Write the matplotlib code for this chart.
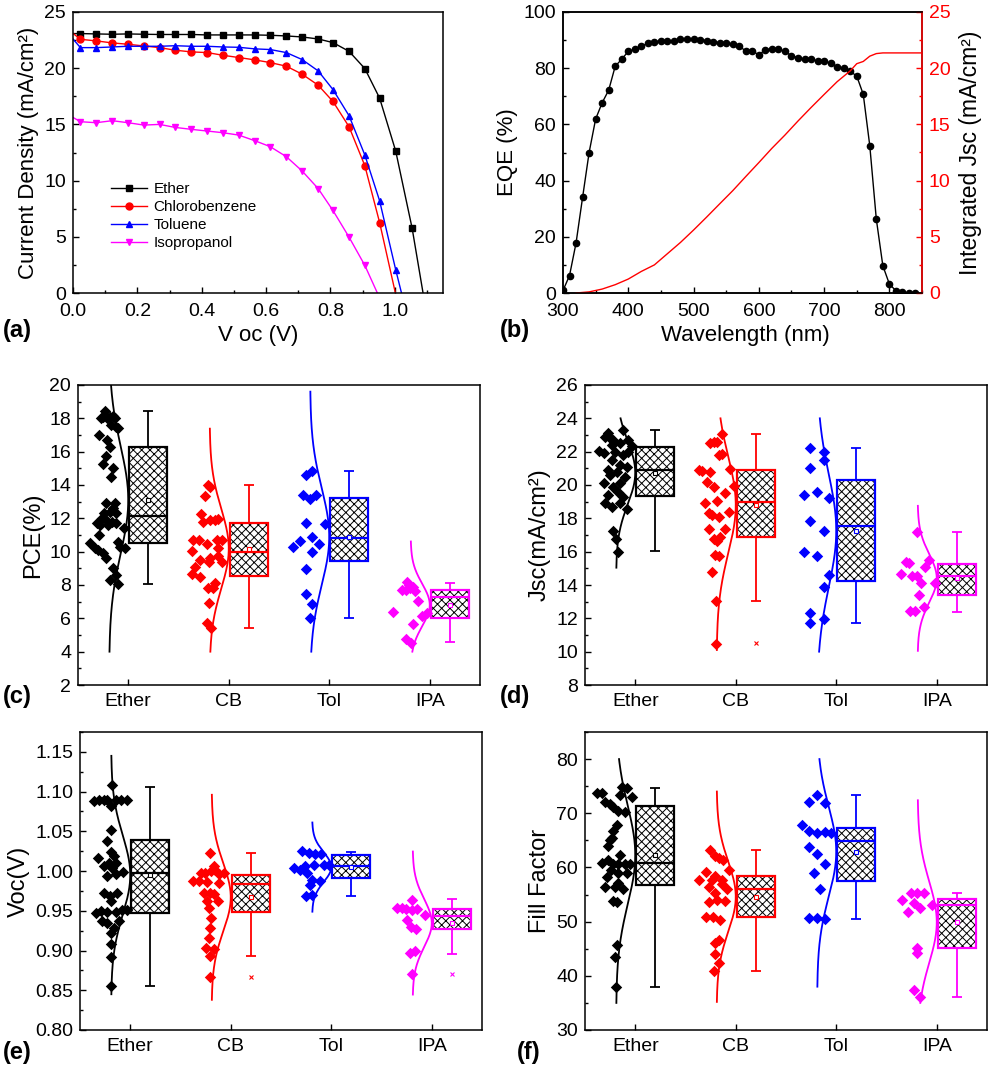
import numpy as np
import matplotlib
matplotlib.use("Agg")
import matplotlib.pyplot as plt
from matplotlib.ticker import MultipleLocator, FormatStrFormatter

plt.rcParams['font.family'] = ['Liberation Sans', 'DejaVu Sans']
plt.rcParams['hatch.linewidth'] = 0.7

# ---------------- (a) J-V data ----------------
legend_labels = ["Ether", "Chlorobenzene", "Toluene", "Isopropanol"]
V_ether = [0, 0.023, 0.072, 0.122, 0.171, 0.22, 0.269, 0.318, 0.368, 0.417, 0.466, 0.515, 0.565,
           0.613, 0.663, 0.712, 0.762, 0.808, 0.858, 0.907, 0.953, 1.003, 1.054, 1.088]
J_ether = [23.08, 23.08, 23.05, 23.02, 23.05, 23.02, 23.0, 23.0, 23.0, 22.96, 22.96, 22.96, 22.96,
           22.93, 22.87, 22.78, 22.6, 22.28, 21.5, 19.97, 17.34, 12.63, 5.77, 0.0]
V_cb = [0, 0.023, 0.072, 0.122, 0.171, 0.22, 0.269, 0.318, 0.368, 0.417, 0.466, 0.515, 0.565,
        0.613, 0.663, 0.712, 0.762, 0.808, 0.858, 0.907, 0.953, 1.002]
J_cb = [23.1, 22.57, 22.43, 22.25, 22.13, 21.98, 21.83, 21.6, 21.45, 21.39, 21.15, 20.95, 20.74,
        20.5, 20.18, 19.47, 18.49, 17.04, 14.79, 11.33, 6.27, 0.0]
V_tol = [0, 0.023, 0.072, 0.122, 0.171, 0.22, 0.269, 0.318, 0.368, 0.417, 0.466, 0.515, 0.565,
         0.613, 0.663, 0.712, 0.762, 0.808, 0.858, 0.907, 0.953, 1.003, 1.021]
J_tol = [22.6, 21.83, 21.83, 21.89, 21.95, 21.95, 21.95, 22.0, 21.95, 21.95, 21.89, 21.86, 21.72,
         21.66, 21.39, 20.77, 19.76, 18.1, 15.77, 12.28, 8.2, 2.07, 0.0]
V_ipa = [0, 0.023, 0.072, 0.122, 0.171, 0.22, 0.269, 0.318, 0.368, 0.417, 0.466, 0.515, 0.565,
         0.613, 0.663, 0.712, 0.762, 0.808, 0.858, 0.907, 0.946]
J_ipa = [15.62, 15.24, 15.15, 15.33, 15.15, 14.94, 15.0, 14.73, 14.56, 14.41, 14.26, 14.05, 13.55,
         13.02, 12.13, 10.86, 9.29, 7.34, 4.97, 2.46, 0.0]

# ---------------- (b) EQE data ----------------
wl = [300, 310, 320, 330, 340, 350, 360, 370, 380, 390, 400, 410, 420, 430, 440, 450, 460, 470,
      480, 490, 500, 510, 520, 530, 540, 550, 560, 570, 580, 590, 600, 610, 620, 630, 640, 650,
      660, 670, 680, 690, 700, 710, 720, 730, 740, 750, 760, 770, 780, 790, 800, 810, 820, 830, 840]
eqe = [0.9, 6.2, 17.8, 34.0, 50.0, 61.9, 67.7, 72.2, 80.7, 83.2, 86.0, 86.7, 87.9, 88.8, 89.5,
       89.6, 89.7, 89.6, 90.3, 90.4, 90.4, 90.2, 89.8, 89.5, 89.1, 88.8, 88.5, 88.0, 86.0, 86.2,
       84.7, 86.6, 86.9, 86.7, 86.0, 84.4, 83.8, 83.2, 83.2, 82.6, 82.5, 81.8, 80.4, 80.0, 78.9,
       77.2, 70.7, 52.4, 26.3, 9.7, 3.2, 0.8, 0.2, 0.0, 0.0]
wl_int = [320, 340, 360, 380, 400, 420, 440, 460, 480, 500, 520, 540, 560, 580, 600, 620, 640,
          660, 680, 700, 720, 740, 750, 760, 770, 780, 790, 800, 850]
jsc_int = [0.0, 0.1, 0.35, 0.74, 1.24, 1.92, 2.5, 3.5, 4.5, 5.6, 6.75, 7.93, 9.1, 10.36, 11.6,
           12.87, 14.05, 15.3, 16.5, 17.66, 18.8, 19.76, 20.4, 20.6, 21.07, 21.3, 21.36, 21.36, 21.36]

# ---------------- (c)-(f) statistics ----------------
categories = ["Ether", "CB", "Tol", "IPA"]
colors = ["#000000", "#ff0000", "#0000ff", "#ff00ff"]

# PCE
pce_ether = [18.44, 18.0, 18.06, 18.0, 18.06, 18.0, 18.14, 17.6, 17.46, 17.4, 17.0, 16.7, 16.26, 15.74,
             15.24, 15.0, 14.46, 12.94, 12.9, 12.3, 12.4, 12.34, 11.7, 11.6, 11.9, 11.8, 11.74, 11.44,
             11.0, 10.5, 10.2, 10.1, 9.9, 9.6, 10.6, 10.3, 10.2, 9.0, 8.6, 8.3, 8.04, 12.0, 11.6, 12.6]
pce_ether_jit = [-0.23, -0.27, -0.25, -0.21, -0.18, -0.13, -0.15, -0.17, -0.12, -0.10, -0.29, -0.21,
                 -0.18, -0.22, -0.25, -0.15, -0.17, -0.22, -0.13, -0.24, -0.18, -0.12, -0.31, -0.28,
                 -0.22, -0.16, -0.12, -0.04, -0.29, -0.38, -0.33, -0.30, -0.25, -0.22, -0.10, -0.08,
                 -0.03, -0.15, -0.12, -0.18, -0.10, -0.26, -0.20, -0.15]
pce_cb = [14.0, 13.9, 13.34, 12.26, 11.8, 11.9, 11.9, 11.96, 10.7, 10.7, 10.46, 10.7, 10.7, 10.04, 10.2,
          9.5, 9.4, 9.6, 9.74, 9.4, 9.1, 8.66, 8.46, 7.8, 7.8, 8.1, 6.9, 5.7, 5.4]
pce_cb_jit = [-0.21, -0.19, -0.24, -0.28, -0.26, -0.19, -0.14, -0.11, -0.36, -0.30, -0.22, -0.12, -0.07,
              -0.37, -0.11, -0.29, -0.20, -0.19, -0.11, -0.07, -0.34, -0.37, -0.29, -0.21, -0.16,
              -0.14, -0.20, -0.22, -0.18]
pce_tol = [14.6, 14.84, 13.4, 13.14, 13.4, 11.74, 11.64, 10.9, 10.3, 10.64, 10.44, 9.96, 8.94, 7.44,
           6.84, 6.04]
pce_tol_jit = [-0.23, -0.17, -0.26, -0.19, -0.13, -0.23, -0.04, -0.17, -0.36, -0.29, -0.10, -0.17,
               -0.23, -0.23, -0.17, -0.19]
pce_ipa = [7.7, 7.8, 7.7, 8.2, 7.9, 7.66, 7.06, 6.36, 5.64, 6.16, 6.3, 4.74, 4.54, 8.0]
pce_ipa_jit = [-0.24, -0.20, -0.28, -0.23, -0.17, -0.15, -0.12, -0.37, -0.17, -0.08, -0.03, -0.24,
               -0.19, -0.21]
pce_q1 = [10.5, 8.54, 9.44, 6.04]
pce_med = [12.15, 10.0, 10.84, 7.3]
pce_q3 = [16.3, 11.7, 13.24, 7.7]
pce_wlo = [8.04, 5.4, 6.04, 4.6]
pce_whi = [18.44, 14.0, 14.84, 8.14]
pce_mean = [13.1, 10.18, 10.9, 6.8]
pce_sd = [3.2, 2.4, 2.9, 1.27]
pce_outliers = [[], [], [], []]

# Jsc
jsc_ether = [23.3, 23.1, 22.9, 22.8, 22.7, 22.7, 22.34, 22.5, 22.4, 22.04, 21.9, 22.0, 21.8, 22.0, 21.5,
             21.2, 21.1, 20.9, 20.8, 20.6, 20.5, 20.1, 19.9, 20.1, 19.6, 19.4, 19.3, 18.9, 18.7, 18.9,
             18.54, 17.26, 16.76, 16.0]
jsc_ether_jit = [-0.12, -0.27, -0.30, -0.25, -0.22, -0.07, -0.03, -0.15, -0.23, -0.36, -0.31, -0.20,
                 -0.12, -0.07, -0.23, -0.15, -0.08, -0.27, -0.18, -0.25, -0.10, -0.31, -0.22, -0.15,
                 -0.17, -0.27, -0.12, -0.30, -0.23, -0.15, -0.08, -0.22, -0.19, -0.17]
jsc_cb = [23.04, 22.54, 22.6, 22.56, 21.8, 21.86, 20.9, 20.86, 20.8, 20.94, 20.2, 19.9, 19.96, 19.5,
          18.9, 19.06, 18.3, 18.2, 18.4, 18.06, 17.34, 17.34, 16.76, 16.66, 16.86, 15.8, 15.74, 14.8,
          13.06, 10.46]
jsc_cb_jit = [-0.14, -0.26, -0.22, -0.19, -0.17, -0.14, -0.37, -0.34, -0.26, -0.06, -0.29, -0.22, -0.02,
              -0.11, -0.31, -0.19, -0.27, -0.24, -0.07, -0.17, -0.27, -0.11, -0.22, -0.19, -0.16,
              -0.21, -0.17, -0.24, -0.20, -0.20]
jsc_tol = [22.2, 22.0, 21.0, 21.5, 19.4, 19.6, 19.2, 17.86, 17.24, 15.96, 15.74, 14.6, 13.86, 12.34,
           11.7, 11.94]
jsc_tol_jit = [-0.26, -0.12, -0.26, -0.12, -0.32, -0.19, -0.07, -0.26, -0.12, -0.32, -0.19, -0.07,
               -0.12, -0.26, -0.26, -0.12]
jsc_ipa = [15.4, 15.3, 17.2, 15.5, 15.1, 14.66, 14.54, 14.54, 14.14, 13.4, 12.46, 12.46, 12.7, 14.14]
jsc_ipa_jit = [-0.31, -0.28, -0.20, -0.08, -0.12, -0.36, -0.25, -0.20, -0.16, -0.18, -0.27, -0.22,
               -0.13, -0.02]
jsc_q1 = [19.34, 16.86, 14.26, 13.4]
jsc_med = [20.9, 19.0, 17.56, 14.56]
jsc_q3 = [22.3, 20.9, 20.3, 15.26]
jsc_wlo = [16.06, 13.06, 11.7, 12.4]
jsc_whi = [23.3, 23.04, 22.2, 17.2]
jsc_mean = [20.74, 18.8, 17.26, 14.4]
jsc_sd = [1.9, 2.9, 3.4, 1.45]
jsc_outliers = [[], [10.5], [], []]

# Voc
voc_ether = [1.088, 1.090, 1.089, 1.089, 1.082, 1.108, 1.090, 1.090, 1.090, 1.052, 1.038, 1.017, 1.024,
             1.019, 1.010, 1.006, 1.010, 1.004, 0.9935, 0.996, 0.999, 0.972, 0.969, 0.973, 0.962,
             0.947, 0.950, 0.949, 0.949, 0.951, 0.951, 0.937, 0.935, 0.937, 0.928, 0.922, 0.908,
             0.892, 0.855]
voc_ether_jit = [-0.36, -0.31, -0.26, -0.23, -0.19, -0.18, -0.14, -0.09, -0.03, -0.19, -0.23, -0.32,
                 -0.19, -0.16, -0.14, -0.26, -0.21, -0.18, -0.23, -0.14, -0.07, -0.26, -0.20, -0.13,
                 -0.19, -0.34, -0.29, -0.23, -0.14, -0.08, -0.03, -0.28, -0.23, -0.11, -0.16, -0.19,
                 -0.19, -0.19, -0.19]
voc_cb = [1.023, 0.998, 0.998, 1.000, 1.001, 1.006, 0.996, 0.998, 0.988, 0.987, 0.986, 0.985, 0.972,
          0.973, 0.971, 0.962, 0.962, 0.954, 0.941, 0.928, 0.916, 0.903, 0.902, 0.8925, 0.8665]
voc_cb_jit = [-0.21, -0.30, -0.26, -0.20, -0.16, -0.17, -0.12, -0.07, -0.38, -0.32, -0.24, -0.12,
              -0.27, -0.21, -0.17, -0.24, -0.13, -0.22, -0.20, -0.21, -0.22, -0.25, -0.17, -0.21, -0.21]
voc_tol = [1.025, 1.023, 1.022, 1.022, 1.004, 1.001, 1.007, 1.008, 1.008, 1.008, 0.998, 0.989, 0.987,
           0.982, 0.968, 0.970]
voc_tol_jit = [-0.29, -0.22, -0.16, -0.10, -0.37, -0.31, -0.26, -0.17, -0.07, -0.02, -0.24, -0.19,
               -0.11, -0.21, -0.25, -0.19]
voc_ipa = [0.9535, 0.953, 0.952, 0.951, 0.952, 0.964, 0.945, 0.939, 0.930, 0.927, 0.897, 0.900, 0.8707]
voc_ipa_jit = [-0.35, -0.30, -0.26, -0.20, -0.15, -0.20, -0.07, -0.25, -0.21, -0.16, -0.22, -0.17, -0.20]
voc_q1 = [0.947, 0.948, 0.9914, 0.927]
voc_med = [0.998, 0.984, 1.007, 0.9439]
voc_q3 = [1.0385, 0.9956, 1.020, 0.9523]
voc_wlo = [0.855, 0.8926, 0.968, 0.896]
voc_whi = [1.106, 1.023, 1.0242, 0.965]
voc_mean = [0.995, 0.967, 1.005, 0.9346]
voc_sd = [0.05, 0.043, 0.0187, 0.03]
voc_outliers = [[], [0.8665], [], [0.8707]]

# FF
ff_ether = [73.7, 73.8, 72.1, 71.7, 71.2, 74.8, 74.6, 73.4, 73.0, 70.3, 70.4, 67.8, 66.8, 65.5, 65.1,
            64.0, 62.3, 60.9, 61.4, 60.7, 60.6, 60.7, 60.6, 59.5, 59.0, 58.9, 58.3, 57.2, 56.4, 56.4,
            56.0, 53.9, 53.6, 45.7, 43.5, 38.0]
ff_ether_jit = [-0.38, -0.33, -0.30, -0.25, -0.22, -0.13, -0.08, -0.15, -0.03, -0.10, -0.17, -0.18,
                -0.22, -0.23, -0.25, -0.27, -0.15, -0.33, -0.27, -0.22, -0.17, -0.10, -0.05, -0.24,
                -0.17, -0.08, -0.28, -0.17, -0.20, -0.30, -0.12, -0.22, -0.18, -0.18, -0.20, -0.19]
ff_cb = [63.2, 62.1, 61.7, 61.4, 57.7, 59.2, 57.7, 58.4, 57.7, 59.5, 56.4, 57.0, 56.0, 55.2, 53.7,
         54.0, 53.9, 50.9, 50.8, 50.3, 46.0, 46.6, 44.0, 42.3, 40.8]
ff_cb_jit = [-0.26, -0.21, -0.17, -0.13, -0.37, -0.30, -0.24, -0.21, -0.14, -0.07, -0.27, -0.14, -0.09,
             -0.21, -0.27, -0.19, -0.11, -0.30, -0.23, -0.16, -0.21, -0.17, -0.21, -0.17, -0.22]
ff_tol = [72.1, 73.4, 71.9, 67.8, 66.7, 66.3, 66.6, 66.3, 63.8, 62.5, 60.6, 59.0, 56.1, 50.6, 50.6, 50.4]
ff_tol_jit = [-0.27, -0.19, -0.11, -0.34, -0.27, -0.19, -0.11, -0.05, -0.27, -0.19, -0.11, -0.22,
              -0.16, -0.27, -0.19, -0.11]
ff_ipa = [54.0, 51.8, 55.2, 55.2, 55.2, 53.4, 52.6, 53.1, 45.1, 44.3, 37.3, 36.0]
ff_ipa_jit = [-0.35, -0.29, -0.26, -0.20, -0.13, -0.23, -0.17, -0.05, -0.20, -0.20, -0.23, -0.17]
ff_q1 = [56.75, 50.9, 57.5, 45.2]
ff_med = [60.9, 56.0, 64.9, 53.1]
ff_q3 = [71.4, 58.5, 67.2, 54.2]
ff_wlo = [38.0, 40.95, 50.4, 36.0]
ff_whi = [74.7, 63.2, 73.4, 55.3]
ff_mean = [62.3, 54.6, 62.9, 49.9]
ff_sd = [9.1, 6.47, 8.3, 7.5]
ff_outliers = [[], [], [], []]

# ---------------- figure ----------------
W, H = 990, 1071
fig = plt.figure(figsize=(W / 100, H / 100), dpi=100)


def axes_px(x0, x1, y0, y1):
    return fig.add_axes([x0 / W, 1 - y1 / H, (x1 - x0) / W, (y1 - y0) / H])


TICK_FS = 14


def style_ticks(ax, **kw):
    ax.tick_params(which='both', direction='in', labelsize=TICK_FS, pad=5, **kw)
    ax.tick_params(which='major', length=4.5, width=1.0)
    ax.tick_params(which='minor', length=2.5, width=1.0)


# (a)
axa = axes_px(73, 443, 12, 293)
for V, J, c, m, lab in [(V_ether, J_ether, colors[0], 's', legend_labels[0]),
                        (V_cb, J_cb, colors[1], 'o', legend_labels[1]),
                        (V_tol, J_tol, colors[2], '^', legend_labels[2]),
                        (V_ipa, J_ipa, colors[3], 'v', legend_labels[3])]:
    axa.plot(V, J, color=c, lw=1.0, marker=m, ms=5, markevery=slice(1, len(V) - 1), label=lab)
axa.set_xlim(0, 1.15)
axa.set_ylim(0, 25)
axa.xaxis.set_major_locator(MultipleLocator(0.2))
axa.xaxis.set_minor_locator(MultipleLocator(0.1))
axa.yaxis.set_major_locator(MultipleLocator(5))
axa.yaxis.set_minor_locator(MultipleLocator(2.5))
axa.xaxis.set_major_formatter(FormatStrFormatter('%.1f'))
style_ticks(axa, top=False, right=False)
axa.tick_params(axis='x', pad=7)
axa.set_ylabel("Current Density (mA/cm²)", fontsize=16, labelpad=4)
axa.legend(loc='upper left', bbox_to_anchor=(0.085, 0.415), frameon=False, fontsize=11,
           handlelength=2.4, labelspacing=0.25, handletextpad=0.4, borderaxespad=0)
fig.text(258 / W, 1 - 336 / H, "V oc (V)", fontsize=16, ha='center', va='center')
fig.text(3 / W, 1 - 331 / H, "(a)", fontsize=17, fontweight='bold', ha='left', va='center')

# (b)
axb = axes_px(563, 922, 12, 293)
axb.plot(wl, eqe, color='black', lw=1.0, marker='o', ms=4.5)
axb.set_xlim(300, 850)
axb.set_ylim(0, 100)
axb.xaxis.set_major_locator(MultipleLocator(100))
axb.xaxis.set_minor_locator(MultipleLocator(50))
axb.yaxis.set_major_locator(MultipleLocator(20))
axb.yaxis.set_minor_locator(MultipleLocator(10))
style_ticks(axb, top=False, right=False)
axb.tick_params(axis='x', pad=7)
axb.set_ylabel("EQE (%)", fontsize=16, labelpad=4)
axb2 = axb.twinx()
axb2.plot(wl_int, jsc_int, color='red', lw=1.0)
axb2.set_ylim(0, 25)
axb2.yaxis.set_major_locator(MultipleLocator(5))
axb2.yaxis.set_minor_locator(MultipleLocator(2.5))
style_ticks(axb2)
axb2.tick_params(which='both', colors='red')
axb2.set_ylabel("Integrated Jsc (mA/cm²)", fontsize=16.5, color='black', labelpad=6)
fig.text(745 / W, 1 - 336 / H, "Wavelength (nm)", fontsize=16, ha='center', va='center')
fig.text(500 / W, 1 - 331 / H, "(b)", fontsize=17, fontweight='bold', ha='left', va='center')


def box_panel(ax, vals, jits, q1, med, q3, wlo, whi, mean, sd, outl, ylim, clip, major, minor):
    for i in range(4):
        c = colors[i]
        x0 = i + 1
        ax.scatter(x0 + np.array(jits[i]), vals[i], marker='D', s=34, color=c, lw=0, zorder=3)
        lo = max(clip[0], mean[i] - 3 * sd[i])
        hi = min(clip[1], mean[i] + 3 * sd[i])
        yy = np.linspace(lo, hi, 200)
        xx = x0 - 0.19 + 0.19 * np.exp(-0.5 * ((yy - mean[i]) / sd[i]) ** 2)
        ax.plot(xx, yy, color=c, lw=1.3, zorder=2)
        bx = x0 + 0.2
        bw = 0.38
        ax.bar(bx, q3[i] - q1[i], bottom=q1[i], width=bw, color='white', edgecolor='black',
               hatch='xxxx', linewidth=0, zorder=2)
        ax.bar(bx, q3[i] - q1[i], bottom=q1[i], width=bw, fill=False, edgecolor=c,
               linewidth=1.6, zorder=3)
        ax.hlines(med[i], bx - bw / 2, bx + bw / 2, color=c, lw=1.6, zorder=3)
        ax.vlines(bx, q3[i], whi[i], color=c, lw=1.3, zorder=2)
        ax.vlines(bx, wlo[i], q1[i], color=c, lw=1.3, zorder=2)
        ax.hlines([whi[i], wlo[i]], bx - 0.05, bx + 0.05, color=c, lw=1.3, zorder=2)
        ax.plot([bx], [mean[i]], marker='s', ms=3.5, mfc='white', mec=c, mew=0.8, zorder=4)
        if outl[i]:
            ax.plot([bx] * len(outl[i]), outl[i], ls='none', marker='x', ms=3.5, color=c, mew=0.8)
    ax.set_xlim(0.5, 4.5)
    ax.set_ylim(*ylim)
    ax.set_xticks([1, 2, 3, 4])
    ax.set_xticklabels(categories, fontsize=14)
    ax.yaxis.set_major_locator(MultipleLocator(major))
    ax.yaxis.set_minor_locator(MultipleLocator(minor))
    style_ticks(ax, top=False, right=False)
    ax.tick_params(axis='x', which='minor', bottom=False)
    ax.tick_params(axis='x', which='major', pad=6)


axc = axes_px(78, 480, 385, 685)
box_panel(axc, [pce_ether, pce_cb, pce_tol, pce_ipa],
          [pce_ether_jit, pce_cb_jit, pce_tol_jit, pce_ipa_jit],
          pce_q1, pce_med, pce_q3, pce_wlo, pce_whi, pce_mean, pce_sd, pce_outliers,
          (2, 20), (4, 20), 2, 1)
axc.set_ylabel("PCE(%)", fontsize=17, labelpad=4)
fig.text(3 / W, 1 - 697 / H, "(c)", fontsize=17, fontweight='bold', ha='left', va='center')

axd = axes_px(585, 987, 385, 685)
box_panel(axd, [jsc_ether, jsc_cb, jsc_tol, jsc_ipa],
          [jsc_ether_jit, jsc_cb_jit, jsc_tol_jit, jsc_ipa_jit],
          jsc_q1, jsc_med, jsc_q3, jsc_wlo, jsc_whi, jsc_mean, jsc_sd, jsc_outliers,
          (8, 26), (10, 24), 2, 1)
axd.set_ylabel("Jsc(mA/cm²)", fontsize=17, labelpad=4)
fig.text(500 / W, 1 - 697 / H, "(d)", fontsize=17, fontweight='bold', ha='left', va='center')

axe = axes_px(80, 482, 732, 1030)
box_panel(axe, [voc_ether, voc_cb, voc_tol, voc_ipa],
          [voc_ether_jit, voc_cb_jit, voc_tol_jit, voc_ipa_jit],
          voc_q1, voc_med, voc_q3, voc_wlo, voc_whi, voc_mean, voc_sd, voc_outliers,
          (0.80, 1.175), (0.80, 1.2), 0.05, 0.025)
axe.yaxis.set_major_formatter(FormatStrFormatter('%.2f'))
axe.set_ylabel("Voc(V)", fontsize=17, labelpad=4)
fig.text(3 / W, 1 - 1052 / H, "(e)", fontsize=17, fontweight='bold', ha='left', va='center')

axf = axes_px(585, 987, 732, 1030)
box_panel(axf, [ff_ether, ff_cb, ff_tol, ff_ipa],
          [ff_ether_jit, ff_cb_jit, ff_tol_jit, ff_ipa_jit],
          ff_q1, ff_med, ff_q3, ff_wlo, ff_whi, ff_mean, ff_sd, ff_outliers,
          (30, 85), (35, 80), 10, 5)
axf.set_ylabel("Fill Factor", fontsize=17, labelpad=4)
fig.text(517 / W, 1 - 1052 / H, "(f)", fontsize=17, fontweight='bold', ha='left', va='center')

for ax in [axa, axb, axb2, axc, axd, axe, axf]:
    for s in ax.spines.values():
        s.set_linewidth(1.1)
axb2.spines['right'].set_color('red')

fig.savefig("out.png", dpi=100)
